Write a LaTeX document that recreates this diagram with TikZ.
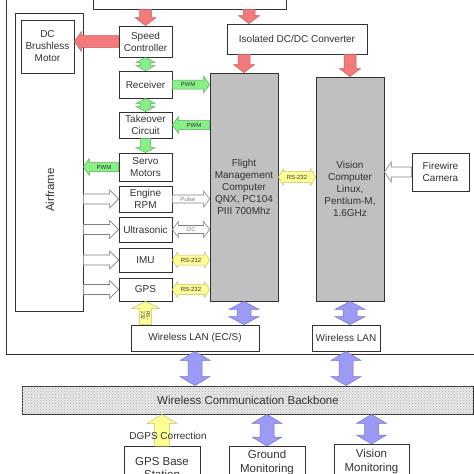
\documentclass[tikz,border=0pt]{standalone}
\usepackage{fontspec}
\setmainfont{Liberation Sans}
\usetikzlibrary{calc,patterns}
\definecolor{ink}{RGB}{50,50,50}
\definecolor{redf}{RGB}{242,122,122}
\definecolor{redd}{RGB}{205,95,95}
\definecolor{grnf}{RGB}{135,240,135}
\definecolor{grnd}{RGB}{85,175,85}
\definecolor{bluf}{RGB}{155,155,245}
\definecolor{blud}{RGB}{115,115,205}
\definecolor{yelf}{RGB}{255,255,150}
\definecolor{yeld}{RGB}{195,195,100}
\definecolor{boxg}{RGB}{192,192,192}
\newcommand\sarr[7]{%
  \coordinate (qA) at (#5);
  \coordinate (qB) at (#6);
  \coordinate (qH) at ($(qB)!#4!(qA)$);
  \path[#1] ($(qA)!#2!90:(qB)$) -- ($(qH)!#2!90:(qB)$) -- ($(qH)!#3!90:(qB)$) -- (qB) -- ($(qH)!#3!-90:(qB)$) -- ($(qH)!#2!-90:(qB)$) -- ($(qA)!#2!-90:(qB)$) -- cycle;
  \node[lab] at ($(qA)!.5!(qH)$) {#7};}
\newcommand\darr[7]{%
  \coordinate (qA) at (#5);
  \coordinate (qB) at (#6);
  \coordinate (qH) at ($(qB)!#4!(qA)$);
  \coordinate (qG) at ($(qA)!#4!(qB)$);
  \path[#1] (qA) -- ($(qG)!#3!90:(qB)$) -- ($(qG)!#2!90:(qB)$) -- ($(qH)!#2!90:(qB)$) -- ($(qH)!#3!90:(qB)$) -- (qB) -- ($(qH)!#3!-90:(qB)$) -- ($(qH)!#2!-90:(qB)$) -- ($(qG)!#2!-90:(qB)$) -- ($(qG)!#3!-90:(qB)$) -- cycle;
  \node[lab] at ($(qA)!.5!(qB)$) {#7};}
\begin{document}
\begin{tikzpicture}[x=1pt,y=-1pt,
  box/.style={draw=ink, line width=0.8pt, fill=white, text=ink, font=\fontsize{10}{12}\selectfont, align=center, inner sep=0pt},
  gbox/.style={box, fill=boxg},
  btxt/.style={text=ink, font=\fontsize{11.5}{13.5}\selectfont, align=center, inner sep=0pt},
  lab/.style={text=ink, font=\fontsize{6}{6}\selectfont, inner sep=0pt},
  rarr/.style={fill=redf, draw=redd, line width=0.5pt},
  garr/.style={fill=grnf, draw=grnd, line width=0.5pt},
  barr/.style={fill=bluf, draw=blud, line width=0.5pt},
  yarr/.style={fill=yelf, draw=yeld, line width=0.5pt},
  harr/.style={fill=white, draw=gray, line width=0.6pt}]
\useasboundingbox (0,0) rectangle (474,474);
\clip (0,0) rectangle (474,474);
\fill[white] (0,0) rectangle (474,474);
% outer frame
\draw[ink, line width=1pt] (6,-20) rectangle (500,354);
% boxes
\node[box, minimum width=193pt, minimum height=40pt] (pwr) at (189.5,-11) {};
\node[box, minimum width=68pt, minimum height=298pt] (air) at (49,162) {};
\node[btxt, rotate=90] (airl) at (50,190) {Airframe};
\node[box, minimum width=53pt, minimum height=53pt] (motor) at (47.5,46.5) {DC\\Brushless\\Motor};
\node[box, minimum width=53pt, minimum height=31pt] (spd) at (145.5,41.5) {Speed\\Controller};
\node[box, minimum width=53pt, minimum height=27pt] (rcv) at (145.5,84.5) {Receiver};
\node[box, minimum width=53pt, minimum height=26pt] (tko) at (145.5,125) {Takeover\\Circuit};
\node[box, minimum width=53pt, minimum height=28pt] (srv) at (145.5,167) {Servo\\Motors};
\node[box, minimum width=53pt, minimum height=26pt] (rpm) at (145.5,199) {Engine\\RPM};
\node[box, minimum width=53pt, minimum height=25pt] (ult) at (145.5,229.5) {Ultrasonic};
\node[box, minimum width=53pt, minimum height=24pt] (imu) at (145.5,260) {IMU};
\node[box, minimum width=53pt, minimum height=23pt] (gps) at (145.5,289.5) {GPS};
\node[gbox, minimum width=68pt, minimum height=228pt] (fmc) at (244,187) {Flight\\Management\\Computer\\QNX, PC104\\PIII 700Mhz};
\node[gbox, minimum width=68pt, minimum height=224pt] (vis) at (350,189) {Vision\\Computer\\Linux,\\Pentium-M,\\1.6GHz};
\node[box, minimum width=140pt, minimum height=30pt] (dcdc) at (297,39) {Isolated DC/DC Converter};
\node[box, minimum width=57pt, minimum height=38pt] (cam) at (440.5,172) {Firewire\\Camera};
\node[box, minimum width=128pt, minimum height=26pt] (wlan1) at (195,338) {Wireless LAN (EC/S)};
\node[box, minimum width=68pt, minimum height=26pt] (wlan2) at (346,338) {Wireless LAN};
\node[draw=ink, line width=0.8pt, fill=gray!18, postaction={pattern=crosshatch dots, pattern color=gray!65}, minimum width=451pt, minimum height=28pt, inner sep=0pt] (bb) at (247.5,400) {};
\node[btxt] (bbl) at (248,400) {Wireless Communication Backbone};
\node[box, minimum width=76pt, minimum height=50pt, anchor=north] (gpsb) at (162,446) {};
\node[btxt, anchor=north] (gpsbl) at ($(gpsb.north)+(0,11)$) {GPS Base\\Station};
\node[box, minimum width=76pt, minimum height=50pt, anchor=north] (gnd) at (267,446) {};
\node[btxt, anchor=north] (gndl) at ($(gnd.north)+(0,4)$) {Ground\\Monitoring};
\node[box, minimum width=75pt, minimum height=50pt, anchor=north] (vmon) at (371.5,444) {};
\node[btxt, anchor=north] (vmonl) at ($(vmon.north)+(0,5)$) {Vision\\Monitoring};
% red power arrows
\sarr{rarr}{6pt}{10.5pt}{8pt}{pwr.south -| spd}{spd.north}{}
\coordinate (d1) at ($(dcdc.north)+(-48,0)$);
\sarr{rarr}{6pt}{10.5pt}{8pt}{d1 |- pwr.south}{d1}{}
\sarr{rarr}{6pt}{10.5pt}{8pt}{dcdc.south -| fmc.north}{fmc.north}{}
\sarr{rarr}{6pt}{10.5pt}{8pt}{dcdc.south -| vis.north}{vis.north}{}
\sarr{rarr}{6pt}{10pt}{7pt}{spd.west}{spd.west -| motor.east}{}
% green arrows
\darr{garr}{5pt}{9.5pt}{5pt}{spd.south}{rcv.north}{}
\sarr{garr}{4.5pt}{8.5pt}{6pt}{rcv.east}{rcv.east -| fmc.west}{PWM}
\darr{garr}{5pt}{9.5pt}{5pt}{rcv.south}{tko.north}{}
\sarr{garr}{4.5pt}{8.5pt}{6pt}{tko.east -| fmc.west}{tko.east}{PWM}
\sarr{garr}{5pt}{9.5pt}{5pt}{tko.south}{srv.north}{}
\sarr{garr}{4.5pt}{8.5pt}{6pt}{srv.west}{srv.west -| air.east}{PWM}
% hollow sensor arrows
\sarr{harr}{5pt}{9pt}{9pt}{rpm.west -| air.east}{rpm.west}{}
\sarr{harr}{5pt}{9pt}{9pt}{ult.west -| air.east}{ult.west}{}
\sarr{harr}{5pt}{9pt}{9pt}{imu.west -| air.east}{imu.west}{}
\sarr{harr}{5pt}{9pt}{9pt}{gps.west -| air.east}{gps.west}{}
\sarr{harr}{4pt}{8pt}{6pt}{rpm.east}{rpm.east -| fmc.west}{\color{gray}Pulse}
\darr{harr}{4pt}{8pt}{6pt}{ult.east}{ult.east -| fmc.west}{\color{gray}I2C}
% yellow serial arrows
\darr{yarr}{5pt}{8pt}{5pt}{imu.east}{imu.east -| fmc.west}{RS-232}
\darr{yarr}{5pt}{8pt}{5pt}{gps.east}{gps.east -| fmc.west}{RS-232}
\coordinate (r1) at ($(fmc.east)+(0,-10)$);
\darr{yarr}{5.5pt}{8.5pt}{5pt}{r1}{r1 -| vis.west}{RS-232}
\sarr{harr}{5pt}{10pt}{7pt}{cam.west}{cam.west -| vis.east}{}
\sarr{yarr}{6pt}{14pt}{7pt}{gps.south |- wlan1.north}{gps.south}{}
\node[lab, rotate=-90, align=center, font=\fontsize{5}{5}\selectfont] (rsl) at ($(gps.south)+(0,14)$) {RS-\\232};
% blue network arrows
\darr{barr}{7pt}{15pt}{8pt}{fmc.south}{fmc.south |- wlan1.north}{}
\darr{barr}{7pt}{15pt}{8pt}{vis.south}{vis.south |- wlan2.north}{}
\darr{barr}{7pt}{15pt}{9pt}{wlan1.south}{wlan1.south |- bb.north}{}
\darr{barr}{7pt}{15pt}{9pt}{wlan2.south}{wlan2.south |- bb.north}{}
\darr{barr}{7pt}{15pt}{9pt}{gnd.north}{gnd.north |- bb.south}{}
\darr{barr}{7pt}{15pt}{9pt}{vmon.north}{vmon.north |- bb.south}{}
\sarr{yarr}{7.5pt}{15pt}{9pt}{gpsb.north}{gpsb.north |- bb.south}{}
\node[text=ink, font=\fontsize{10}{12}\selectfont, inner sep=0pt] (dgps) at (168,436) {DGPS Correction};
\end{tikzpicture}
\end{document}
